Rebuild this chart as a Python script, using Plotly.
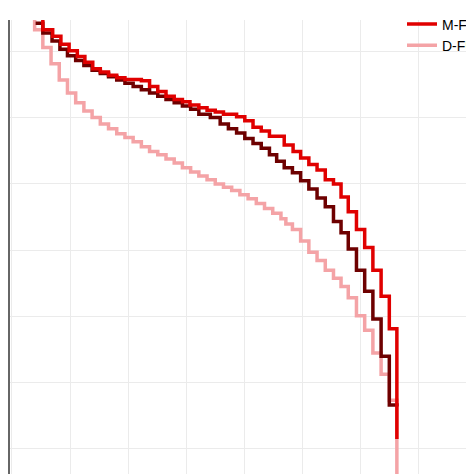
import plotly.graph_objects as go

# step coordinates (x in plot units, y in plot units, downwards)
red_x = [240, 300, 390, 465, 540, 615, 684, 756, 825, 900, 975, 1050, 1200, 1275, 1350, 1425, 1500, 1575,
         1644, 1725, 1800, 1875, 1950, 2070, 2145, 2220, 2295, 2370, 2505, 2586, 2655, 2730, 2805, 2880,
         2955, 3024, 3090, 3165, 3240, 3315, 3390, 3465, 3534]
red_y = [-30, 90, 150, 225, 285, 336, 390, 450, 480, 510, 534, 549, 561, 615, 660, 705, 735, 756,
         786, 810, 834, 849, 870, 894, 930, 990, 1026, 1074, 1155, 1215, 1275, 1335, 1386, 1476,
         1515, 1635, 1770, 1935, 2100, 2310, 2550, 2850, 3465]
red_end = 3870

dark_x = [234, 300, 384, 456, 525, 600, 675, 750, 825, 900, 975, 1050, 1125, 1200, 1275, 1350, 1425,
          1500, 1575, 1650, 1725, 1830, 1920, 1995, 2070, 2145, 2220, 2295, 2370, 2436, 2505, 2580,
          2655, 2730, 2805, 2880, 2955, 3024, 3090, 3165, 3240, 3315, 3390, 3465, 3534]
dark_y = [30, 120, 195, 270, 330, 375, 420, 465, 495, 525, 555, 585, 615, 645, 675, 705, 735, 765,
          795, 825, 870, 900, 960, 1005, 1044, 1095, 1140, 1185, 1245, 1305, 1365, 1410, 1485, 1560,
          1644, 1725, 1860, 1965, 2115, 2310, 2505, 2760, 3105, 3555, 3570]

pink_x = [165, 225, 300, 375, 450, 525, 600, 675, 750, 825, 900, 975, 1050, 1125, 1200, 1275, 1350,
          1425, 1500, 1575, 1650, 1725, 1800, 1875, 1950, 2025, 2100, 2175, 2250, 2325, 2400, 2475,
          2520, 2580, 2655, 2730, 2805, 2880, 2955, 3024, 3090, 3165, 3240, 3315, 3390, 3465, 3534]
pink_y = [-30, 90, 255, 405, 555, 675, 765, 840, 900, 960, 1005, 1050, 1086, 1125, 1170, 1215, 1245,
          1284, 1320, 1365, 1404, 1440, 1476, 1515, 1545, 1575, 1614, 1650, 1695, 1740, 1785, 1836,
          1884, 1935, 2040, 2145, 2220, 2310, 2385, 2460, 2565, 2730, 2865, 3075, 3270, 3510, 3870]
pink_end = 4300

fig = go.Figure()
fig.add_trace(go.Scatter(x=pink_x + [pink_x[-1]], y=pink_y + [pink_end], mode='lines', line_shape='hv',
                         line=dict(color='#f4a3a6', width=3.5), name='D-FU'))
fig.add_trace(go.Scatter(x=dark_x, y=dark_y, mode='lines', line_shape='hv',
                         line=dict(color='#6e0000', width=3.5), name='F-U', showlegend=False))
fig.add_trace(go.Scatter(x=red_x + [red_x[-1]], y=red_y + [red_end], mode='lines', line_shape='hv',
                         line=dict(color='#e00000', width=3.5), name='M-FU'))

fig.update_xaxes(range=[0, 4266], tick0=549, dtick=531, showticklabels=False, gridcolor='#ebebeb',
                 zeroline=False, showline=False)
fig.update_yaxes(range=[4266, 0], tick0=288, dtick=612, showticklabels=False, gridcolor='#ebebeb',
                 zeroline=False, showline=True, linecolor='#666666', mirror=True, linewidth=2)
fig.update_layout(width=474, height=474, margin=dict(l=2, r=1, t=0, b=0),
                  plot_bgcolor='white', paper_bgcolor='white',
                  legend=dict(x=0.84, y=1.025, xanchor='left', yanchor='top', traceorder='reversed',
                              font=dict(family='Liberation Sans', size=14, color='black'),
                              bgcolor='rgba(0,0,0,0)', tracegroupgap=0, itemwidth=30))
fig.write_html("out.html")
